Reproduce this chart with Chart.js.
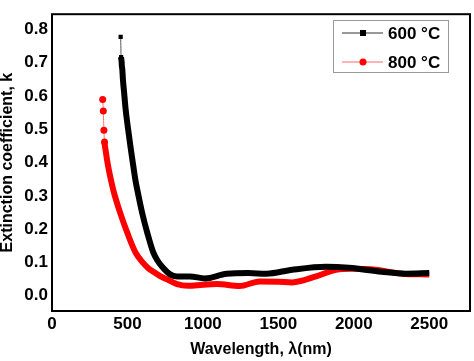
<!DOCTYPE html>
<html>
<head>
<meta charset="utf-8">
<script src="https://cdn.jsdelivr.net/npm/chart.js@4/dist/chart.umd.min.js"></script>
<style>
  html, body { margin: 0; padding: 0; background: #fff; }
</style>
</head>
<body>
<canvas id="graficoK" width="474" height="361"></canvas>
<script>
// dados
const wl600 = [455, 458, 461, 463, 466, 470, 478, 487, 503, 520, 537, 553, 572, 599, 632, 671, 700, 730, 783, 829, 914, 1013, 1158, 1300, 1421, 1592, 1816, 1967, 2184, 2342, 2500];
const k600 = [0.778, 0.717, 0.705, 0.690, 0.680, 0.650, 0.610, 0.564, 0.505, 0.448, 0.395, 0.347, 0.303, 0.246, 0.188, 0.130, 0.105, 0.087, 0.064, 0.058, 0.058, 0.052, 0.066, 0.068, 0.066, 0.078, 0.087, 0.084, 0.072, 0.066, 0.068];

const wl800 = [336, 340, 344, 348, 356, 366, 378, 392, 406, 422, 454, 500, 553, 599, 640, 671, 720, 763, 829, 900, 1000, 1092, 1243, 1375, 1500, 1592, 1750, 1882, 1987, 2145, 2316, 2500];
const k800 = [0.590, 0.555, 0.497, 0.462, 0.435, 0.405, 0.375, 0.345, 0.318, 0.292, 0.246, 0.188, 0.130, 0.101, 0.082, 0.072, 0.058, 0.049, 0.035, 0.030, 0.033, 0.035, 0.029, 0.043, 0.042, 0.040, 0.058, 0.078, 0.081, 0.078, 0.066, 0.064];

// marcas dos eixos
const xTicks = [0, 500, 1000, 1500, 2000, 2500];
const yTicks = [0.0, 0.1, 0.2, 0.3, 0.4, 0.5, 0.6, 0.7, 0.8];

const rotulos = ['600 \u00B0C', '800 \u00B0C'];
const cores = ['#000000', '#ff0000'];

const fonte = 'Liberation Sans, Arial, sans-serif';

// quantos pontos do inicio aparecem soltos (linha fina com marcador)
const soltos600 = 1;
const soltos800 = 3;

function pares(xs, ys) {
    return xs.map((x, i) => ({ x: x, y: ys[i] }));
}

// moldura completa em volta da area do grafico
const moldura = {
    id: 'moldura',
    afterDraw(chart) {
        const { ctx, chartArea: a } = chart;
        ctx.save();
        ctx.strokeStyle = '#000';
        ctx.lineWidth = 2;
        ctx.strokeRect(a.left, a.top, a.right - a.left, a.bottom - a.top);
        ctx.restore();
    }
};

// legenda com linha + marcador dentro de uma caixa
const legenda = {
    id: 'legenda',
    afterDraw(chart) {
        const ctx = chart.ctx;
        ctx.save();
        ctx.strokeStyle = '#999';
        ctx.lineWidth = 1;
        ctx.strokeRect(333.5, 20.5, 115, 52);
        const linhasY = [33, 62];
        rotulos.forEach((txt, i) => {
            const y = linhasY[i];
            ctx.strokeStyle = i === 0 ? '#333' : '#ff6666';
            ctx.lineWidth = 1;
            ctx.beginPath();
            ctx.moveTo(342, y);
            ctx.lineTo(383, y);
            ctx.stroke();
            ctx.fillStyle = cores[i];
            if (i === 0) {
                ctx.fillRect(360, y - 3, 6, 6);
            } else {
                ctx.beginPath();
                ctx.arc(363, y, 3.5, 0, Math.PI * 2);
                ctx.fill();
            }
            ctx.fillStyle = '#000';
            ctx.font = 'bold 17px ' + fonte;
            ctx.textBaseline = 'middle';
            ctx.textAlign = 'left';
            ctx.fillText(txt, 388, y + 1);
        });
        ctx.restore();
    }
};

const ctx = document.getElementById('graficoK').getContext('2d');

new Chart(ctx, {
    type: 'line',
    data: {
        datasets: [{
            label: rotulos[0],
            data: pares(wl600, k600),
            borderColor: cores[0],
            backgroundColor: cores[0],
            borderWidth: 6,
            pointStyle: 'rect',
            pointRadius: c => c.dataIndex <= soltos600 ? 3 : 0,
            pointBorderWidth: 0,
            cubicInterpolationMode: 'monotone',
            segment: {
                borderWidth: c => c.p0DataIndex < soltos600 ? 1 : 6,
                borderColor: c => c.p0DataIndex < soltos600 ? '#555' : cores[0]
            }
        }, {
            label: rotulos[1],
            data: pares(wl800, k800),
            borderColor: cores[1],
            backgroundColor: cores[1],
            borderWidth: 6,
            pointStyle: 'circle',
            pointRadius: c => c.dataIndex <= soltos800 ? 3.5 : 0,
            pointBorderWidth: 0,
            cubicInterpolationMode: 'monotone',
            segment: {
                borderWidth: c => c.p0DataIndex < soltos800 ? 1 : 6,
                borderColor: c => c.p0DataIndex < soltos800 ? '#ff7777' : cores[1]
            }
        }]
    },
    options: {
        responsive: false,
        animation: false,
        layout: { padding: { top: 2, right: 2, left: 0, bottom: 0 } },
        plugins: {
            legend: { display: false },
            tooltip: { enabled: false }
        },
        scales: {
            x: {
                type: 'linear',
                min: 0,
                max: 2770,
                grid: { display: false, drawTicks: false },
                border: { display: false },
                afterFit: s => { s.height = 50; },
                afterBuildTicks: s => { s.ticks = xTicks.map(v => ({ value: v })); },
                ticks: {
                    padding: 3,
                    color: '#000',
                    maxRotation: 0,
                    autoSkip: false,
                    font: { family: fonte, size: 17, weight: 'bold' },
                    callback: v => String(v)
                },
                title: {
                    display: true,
                    text: 'Wavelength, \u03BB(nm)',
                    color: '#000',
                    padding: { top: 0, bottom: 2 },
                    font: { family: fonte, size: 16, weight: 'bold' }
                }
            },
            y: {
                min: -0.046,
                max: 0.846,
                grid: { display: false, drawTicks: false },
                border: { display: false },
                afterFit: s => { s.width = 52; },
                afterBuildTicks: s => { s.ticks = yTicks.map(v => ({ value: v })); },
                ticks: {
                    padding: 4,
                    color: '#000',
                    autoSkip: false,
                    font: { family: fonte, size: 17, weight: 'bold' },
                    callback: v => v.toFixed(1)
                },
                title: {
                    display: true,
                    text: 'Extinction coefficient, k',
                    color: '#000',
                    padding: { top: 0, bottom: 0 },
                    font: { family: fonte, size: 16, weight: 'bold', lineHeight: 1 }
                }
            }
        }
    },
    plugins: [moldura, legenda]
});
</script>
</body>
</html>
